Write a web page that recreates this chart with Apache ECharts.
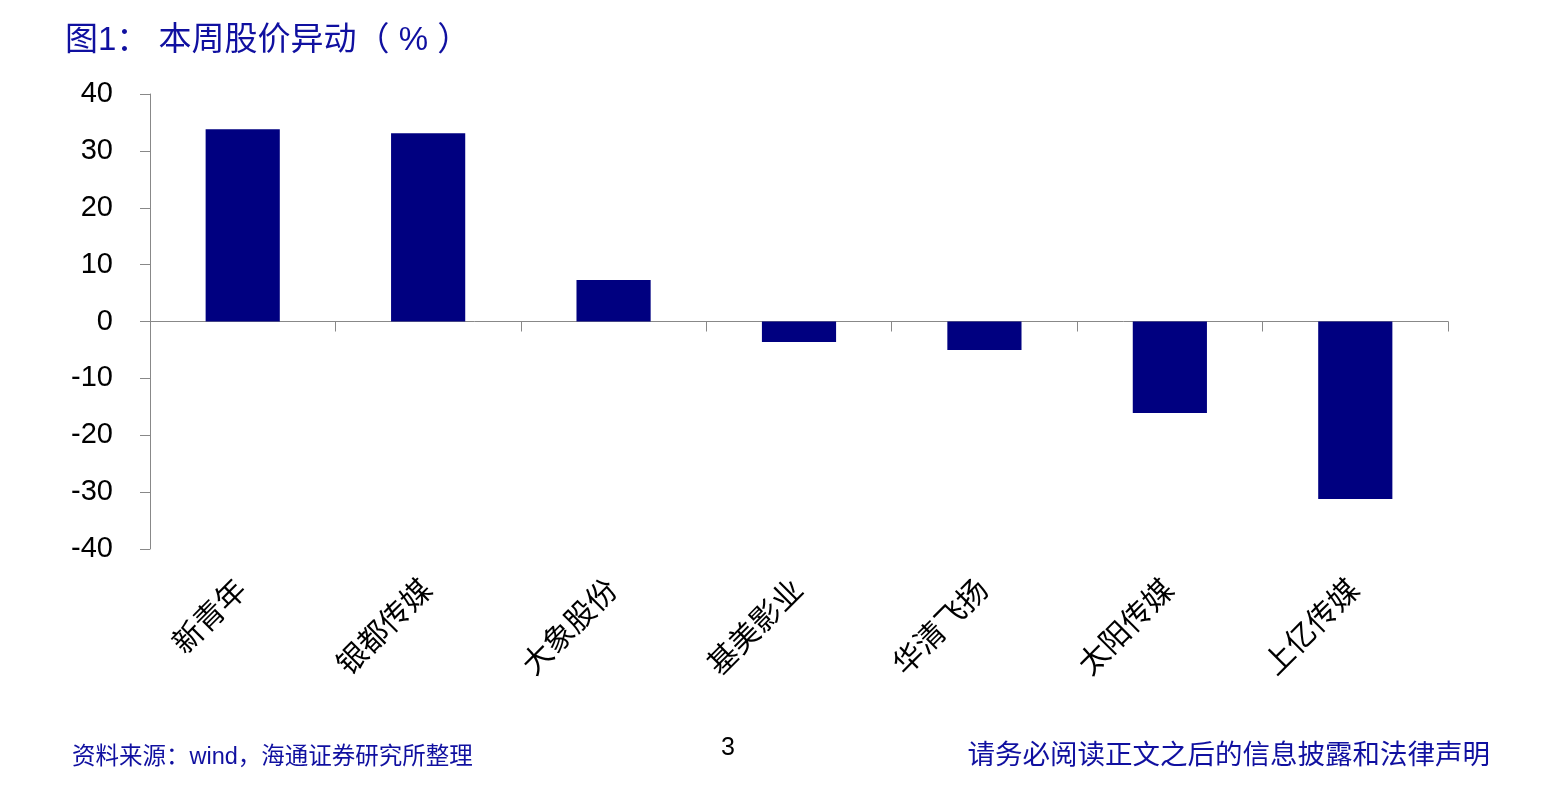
<!DOCTYPE html>
<html><head><meta charset="utf-8">
<script src="https://cdn.jsdelivr.net/npm/echarts@6/dist/echarts.min.js"></script>
<style>html,body{margin:0;padding:0;background:#fff}#c{width:1560px;height:790px}</style>
</head><body><div id="c"></div>
<script>
const categories = ['新青年','银都传媒','大象股份','基美影业','华清飞扬','太阳传媒','上亿传媒'];
const values = [33.8, 33.1, 7.3, -3.6, -5.0, -16.1, -31.2];
const yTicks = {min: -40, max: 40, interval: 10};

const chart = echarts.init(document.getElementById('c'), null, {renderer: 'canvas'});
const cjk = '"Liberation Sans", Arial, "Noto Sans CJK SC", sans-serif';
const blue = '#1010a0';
chart.setOption({
  animation: false,
  title: [
    {text: '图1： 本周股价异动（ % ）', left: 60, top: 19, textStyle: {fontSize: 33, fontWeight: 'normal', color: blue, fontFamily: cjk}},
    {text: '资料来源：wind，海通证券研究所整理', left: 67, top: 741, textStyle: {fontSize: 23.5, fontWeight: 'normal', color: blue, fontFamily: cjk}},
    {text: '3', left: 716, top: 731, textStyle: {fontSize: 25, fontWeight: 'normal', color: '#000', fontFamily: cjk}},
    {text: '请务必阅读正文之后的信息披露和法律声明', right: 65, top: 738, textStyle: {fontSize: 27.5, fontWeight: 'normal', color: blue, fontFamily: cjk}}
  ],
  grid: {left: 150, right: 112, top: 94, bottom: 241, containLabel: false},
  xAxis: [
    {type: 'category', data: categories, position: 'bottom',
     axisLine: {show: false, onZero: false}, axisTick: {show: false},
     axisLabel: {rotate: 45, margin: 37, fontSize: 30, color: '#000', fontFamily: cjk, interval: 0}},
    {type: 'category', data: categories, position: 'bottom',
     axisLine: {show: true, onZero: true, lineStyle: {color: '#888', width: 1}},
     axisTick: {show: true, length: 10, alignWithLabel: false, interval: 0, lineStyle: {color: '#888'}},
     axisLabel: {show: false}}
  ],
  yAxis: {type: 'value', min: yTicks.min, max: yTicks.max, interval: yTicks.interval,
    axisLine: {show: true, lineStyle: {color: '#888', width: 1}},
    axisTick: {show: true, length: 10, lineStyle: {color: '#888'}},
    splitLine: {show: false},
    axisLabel: {fontSize: 29, color: '#000', margin: 37, fontFamily: cjk}},
  series: [{type: 'bar', data: values, xAxisIndex: 0, barWidth: '40%', itemStyle: {color: '#000080'}}]
});
</script></body></html>
